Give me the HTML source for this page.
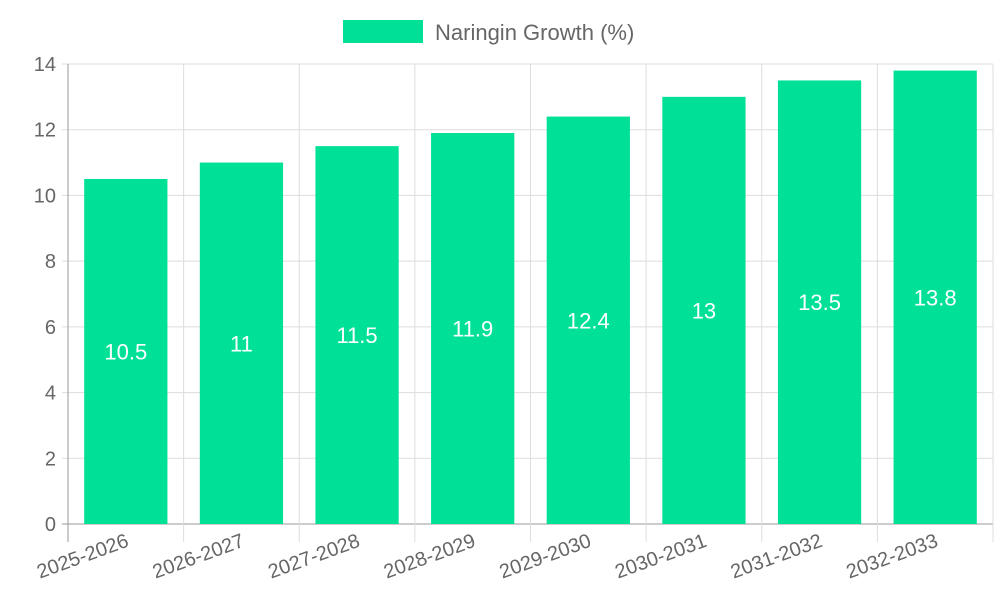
<!DOCTYPE html>
<html><head><meta charset="utf-8"><style>
html,body{margin:0;padding:0;background:#fff;}
svg{display:block;font-family:"Liberation Sans",sans-serif;}
</style></head><body>
<svg id="chart" width="1000" height="600" viewBox="0 0 1000 600" xmlns="http://www.w3.org/2000/svg">
<g id="legend">
<rect x="343" y="20" width="80" height="23" fill="#00e096"/>
<text x="435" y="40" font-size="22" fill="#666">Naringin Growth (%)</text>
</g>
<g id="grid"></g><g id="bars"></g><g id="labels"></g><g id="axes"></g>
</svg>
<script>
const categories=["2025-2026","2026-2027","2027-2028","2028-2029","2029-2030","2030-2031","2031-2032","2032-2033"];
const values=[10.5,11,11.5,11.9,12.4,13,13.5,13.8];
const yTicks=[0,2,4,6,8,10,12,14];
const NS="http://www.w3.org/2000/svg";
const L=68,R=993,T=64,B=524,yMax=14;
const bw=(R-L)/categories.length;
const y=v=>B-(v/yMax)*(B-T);
const x=i=>L+i*bw;
function mk(tag,attrs,parent,text){const e=document.createElementNS(NS,tag);for(const k in attrs)e.setAttribute(k,attrs[k]);if(text!==undefined)e.textContent=text;document.getElementById(parent).appendChild(e);return e;}
yTicks.forEach(t=>{
 const g=mk('line',{x1:L-6,x2:R,y1:y(t),y2:y(t),stroke:t===0?'#999':'#ddd','stroke-width':1},'grid');
 
 
 const tl=mk('text',{x:L-12,y:y(t)+7,'text-anchor':'end','font-size':20,fill:'#666'},'axes',String(t));
 
 
});
for(let i=0;i<=categories.length;i++){
 const g=mk('line',{x1:x(i),x2:x(i),y1:T,y2:B+18,stroke:i===0?'#999':'#ddd','stroke-width':1},'grid');
 
 
}
categories.forEach((c,i)=>{
 const w=bw*0.72,cx=x(i)+bw/2;
 const b=mk('rect',{x:cx-w/2,y:y(values[i]),width:w,height:B-y(values[i]),fill:'#00e096'},'bars');
 
 
 const v=mk('text',{x:cx,y:(y(values[i])+B)/2+8,'text-anchor':'middle','font-size':22,fill:'#fff'},'labels',String(values[i]));
 
 
 const tl=mk('text',{x:cx+4,y:B+22,'text-anchor':'end','font-size':20,fill:'#666',transform:`rotate(-20 ${cx+4} ${B+22})`},'axes',c);
 
 
});
</script>
</body></html>
